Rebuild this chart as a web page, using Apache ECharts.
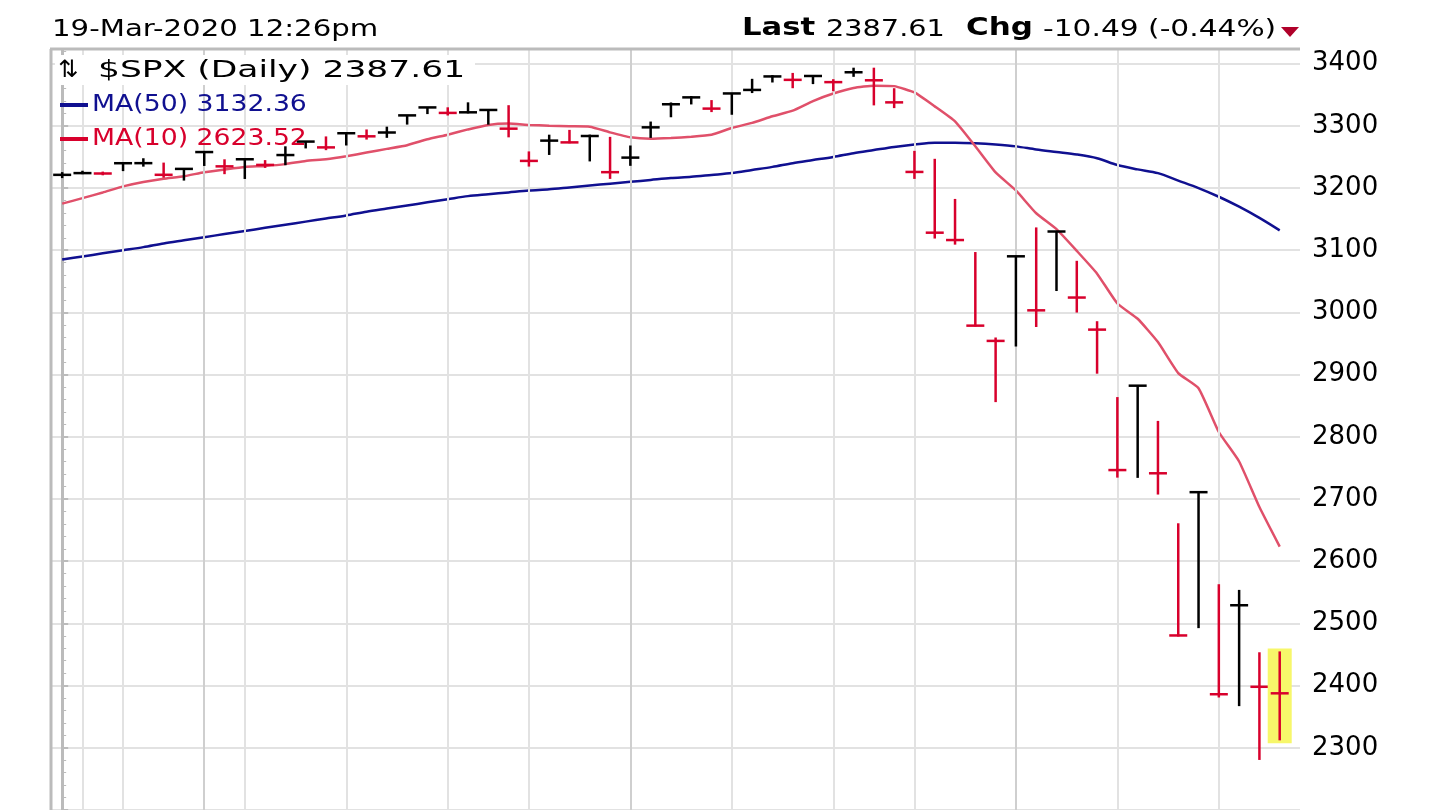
<![CDATA[<!DOCTYPE html>
<html><head><meta charset="utf-8">
<script src="https://cdn.jsdelivr.net/npm/echarts@6/dist/echarts.min.js"></script>
<style>html,body{margin:0;padding:0;background:#fff}#c{width:1440px;height:810px}</style>
</head><body><div id="c"></div>
<script>
const dates = ['2019-12-20','2019-12-23','2019-12-24','2019-12-26','2019-12-27','2019-12-30','2019-12-31','2020-01-02','2020-01-03','2020-01-06','2020-01-07','2020-01-08','2020-01-09','2020-01-10','2020-01-13','2020-01-14','2020-01-15','2020-01-16','2020-01-17','2020-01-21','2020-01-22','2020-01-23','2020-01-24','2020-01-27','2020-01-28','2020-01-29','2020-01-30','2020-01-31','2020-02-03','2020-02-04','2020-02-05','2020-02-06','2020-02-07','2020-02-10','2020-02-11','2020-02-12','2020-02-13','2020-02-14','2020-02-18','2020-02-19','2020-02-20','2020-02-21','2020-02-24','2020-02-25','2020-02-26','2020-02-27','2020-02-28','2020-03-02','2020-03-03','2020-03-04','2020-03-05','2020-03-06','2020-03-09','2020-03-10','2020-03-11','2020-03-12','2020-03-13','2020-03-16','2020-03-17','2020-03-18','2020-03-19'];
const highs = [3225.6,3227.8,3226.4,3240.1,3247.9,3240.9,3231.7,3258.1,3246.2,3246.8,3244.9,3267.1,3275.6,3283.0,3288.1,3294.2,3298.7,3317.1,3329.9,3329.8,3337.8,3326.9,3333.2,3258.9,3285.8,3293.5,3285.9,3282.3,3268.4,3306.9,3337.6,3348.0,3341.4,3352.3,3375.6,3381.5,3385.1,3380.7,3375.0,3393.5,3393.5,3360.5,3259.8,3247.0,3182.5,3097.1,2959.7,3091.0,3136.7,3131.0,3083.0,2985.9,2863.9,2882.6,2825.6,2661.0,2711.3,2563.0,2553.9,2453.6,2455.0];
const lows = [3216.0,3222.3,3220.5,3227.2,3234.4,3216.6,3212.0,3235.5,3222.3,3214.6,3232.4,3236.7,3263.7,3260.9,3268.4,3277.9,3280.7,3302.0,3318.9,3316.6,3320.0,3301.9,3281.5,3234.5,3253.2,3271.9,3242.8,3214.7,3235.7,3280.6,3313.8,3334.4,3322.1,3317.8,3352.7,3369.7,3360.5,3367.1,3355.6,3378.8,3332.9,3328.5,3214.7,3118.8,3109.0,2977.4,2855.8,2945.2,2976.6,3034.4,2999.8,2901.5,2734.4,2734.0,2707.2,2478.9,2492.4,2380.9,2367.0,2280.5,2312.0];
const closes = [3221.22,3224.01,3223.38,3239.91,3240.02,3221.29,3230.78,3257.85,3234.85,3246.28,3237.18,3253.05,3274.70,3265.35,3288.13,3283.15,3289.29,3316.81,3329.62,3320.79,3321.75,3325.54,3295.47,3243.63,3276.24,3273.40,3283.66,3225.52,3248.92,3297.59,3334.69,3345.78,3327.71,3352.09,3357.75,3379.45,3373.94,3380.16,3370.29,3386.15,3373.23,3337.75,3225.89,3128.21,3116.39,2978.76,2954.22,3090.23,3003.37,3130.12,3023.94,2972.37,2746.56,2882.23,2741.38,2480.64,2711.02,2386.13,2529.19,2398.10,2387.61];
const priorCloses = [3135.96,3132.52,3141.63,3168.57,3168.80,3191.45,3192.52,3191.14,3205.37];
const prevClose0 = 3205.37;
const ma50 = [3085,3090,3095,3100,3105,3111,3116,3121,3126,3131,3136,3141,3146,3151,3156,3162,3167,3172,3177,3182,3187,3190,3193,3196,3198,3201,3204,3207,3210,3213,3216,3218,3221,3224,3229,3234,3240,3245,3250,3256,3261,3266,3270,3273,3273,3272,3270,3267,3262,3258,3254,3248,3237,3230,3224,3212,3200,3186,3170,3152,3132];
const yTicks = [2300,2400,2500,2600,2700,2800,2900,3000,3100,3200,3300,3400];
const weekLines = [1,3,7,9,14,19,23,28,33,38,42,47,52,57];
const monthLines = [7,28,47];

const all = priorCloses.concat(closes);
const ma10 = closes.map((c,i)=>{let s=0;for(let k=i;k<i+10;k++)s+=all[k];return +(s/10).toFixed(2);});
const RED='#d8002c';
const bars = closes.map((c,i)=>[i,highs[i],lows[i],c,(i===0?prevClose0:closes[i-1])]);

const chart = echarts.init(document.getElementById('c'));
const F='DejaVu Sans';
function T(x,y,text,sx,font,fill,extra){return Object.assign({type:'text',z:52,x:x,y:y,scaleX:sx,style:{text:text,font:font,fill:fill,textVerticalAlign:'middle'}},extra||{});}
chart.setOption({
  animation:false,
  grid:{left:50,right:140,top:1.45,height:889.6},
  xAxis:{type:'value',min:-0.6,max:61,axisLine:{show:false},axisTick:{show:false},axisLabel:{show:false},splitLine:{show:false}},
  yAxis:{type:'value',position:'right',min:2200,max:3500,interval:100,
    axisLine:{show:true,lineStyle:{color:'#bbb',width:3}},
    axisTick:{show:true,length:6,lineStyle:{color:'#bbb',width:2}},
    minorTick:{show:true,splitNumber:5,length:4,lineStyle:{color:'#bbb'}},
    axisLabel:{color:'#000',fontFamily:F,fontSize:26,margin:12,formatter:v=>yTicks.includes(v)?String(v):''},
    splitLine:{show:true,lineStyle:{color:'#e2e2e2',width:2}}},
  series:[
    {type:'line',data:ma50.map((v,i)=>[i,v]),symbol:'none',smooth:0.3,lineStyle:{color:'#101090',width:2.5},z:2,
     markLine:{silent:true,symbol:'none',label:{show:false},
       data:weekLines.map(i=>({xAxis:i,lineStyle:{color:monthLines.includes(i)?'#cfcfcf':'#e2e2e2',width:2,type:'solid'}}))}},
    {type:'line',data:ma10.map((v,i)=>[i,v]),symbol:'none',smooth:0.15,lineStyle:{color:'#e0506a',width:2.5},z:3},
    {type:'custom',z:5,data:bars,renderItem:(p,api)=>{
      const i=api.value(0);
      const hi=api.coord([i,api.value(1)]),lo=api.coord([i,api.value(2)]),cl=api.coord([i,api.value(3)]);
      const col=api.value(3)<api.value(4)?RED:'#000';
      const ch=[];
      if(i===60) ch.push({type:'rect',shape:{x:hi[0]-12,y:hi[1]-3,width:24,height:lo[1]-hi[1]+6},style:{fill:'#f7f76a'}});
      ch.push({type:'line',shape:{x1:hi[0],y1:hi[1],x2:lo[0],y2:lo[1]},style:{stroke:col,lineWidth:2.5}});
      ch.push({type:'line',shape:{x1:cl[0]-9,y1:cl[1],x2:cl[0]+9,y2:cl[1]},style:{stroke:col,lineWidth:2.5}});
      return {type:'group',children:ch};
    }}
  ],
  graphic:[
    {type:'rect',z:50,shape:{x:0,y:0,width:1440,height:48},style:{fill:'#fff'}},
    {type:'line',z:51,shape:{x1:50,y1:49,x2:1300,y2:49},style:{stroke:'#bbb',lineWidth:3}},
    {type:'line',z:51,shape:{x1:51,y1:49,x2:51,y2:810},style:{stroke:'#bbb',lineWidth:3}},
    T(52,30,'19-Mar-2020 12:26pm',1.27,'23px "DejaVu Sans"','#000'),
    T(742,29,'Last',1.28,'bold 24px "DejaVu Sans"','#000'),
    T(826,30,'2387.61',1.25,'23px "DejaVu Sans"','#000'),
    T(966,29,'Chg',1.29,'bold 24px "DejaVu Sans"','#000'),
    T(1043,30,'-10.49 (-0.44%)',1.29,'23px "DejaVu Sans"','#000'),
    {type:'polygon',z:52,shape:{points:[[1281,27],[1299,27],[1290,37]]},style:{fill:'#b0002a'}},
    {type:'rect',z:51,shape:{x:55,y:55,width:420,height:30},style:{fill:'#fff'}},
    T(58,71,'⇅',1.0,'24px "DejaVu Sans"','#000'),
    T(98,71,'$SPX (Daily) 2387.61',1.5,'23px "DejaVu Sans"','#000'),
    {type:'rect',z:52,shape:{x:60,y:103,width:28,height:4},style:{fill:'#101090'}},
    T(92,105,'MA(50) 3132.36',1.16,'23px "DejaVu Sans"','#101090'),
    {type:'rect',z:52,shape:{x:60,y:137,width:28,height:4},style:{fill:RED}},
    T(92,139,'MA(10) 2623.52',1.16,'23px "DejaVu Sans"',RED)
  ]
});
</script></body></html>
]]>
